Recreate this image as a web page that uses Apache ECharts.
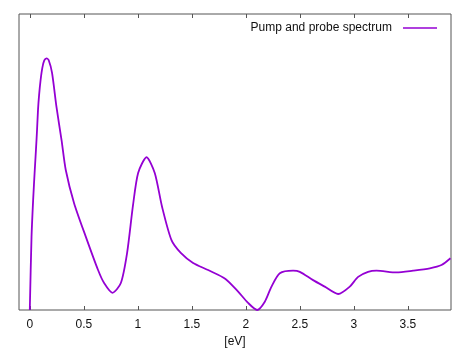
<!DOCTYPE html>
<html><head><meta charset="utf-8">
<script src="https://cdn.jsdelivr.net/npm/echarts@6/dist/echarts.min.js"></script>
<style>html,body{margin:0;padding:0;background:#fff}#c{width:474px;height:355px}</style>
</head><body><div id="c"></div>
<script>
const energyEV = [0,0.016,0.031,0.046,0.057,0.067,0.076,0.086,0.1,0.116,0.134,0.155,0.176,0.206,0.247,0.294,0.333,0.41,0.519,0.632,0.688,0.766,0.843,0.901,0.956,1.003,1.081,1.157,1.225,1.312,1.398,1.512,1.651,1.812,1.929,2.021,2.105,2.176,2.238,2.315,2.438,2.5,2.623,2.731,2.855,2.963,3.04,3.132,3.21,3.395,3.549,3.704,3.812,3.895];
const signal = [0,0.247,0.372,0.473,0.541,0.608,0.676,0.726,0.777,0.818,0.843,0.85,0.843,0.801,0.686,0.574,0.473,0.361,0.247,0.135,0.091,0.058,0.091,0.193,0.355,0.463,0.516,0.463,0.348,0.236,0.193,0.159,0.135,0.105,0.062,0.024,0,0.028,0.079,0.124,0.133,0.129,0.101,0.079,0.054,0.079,0.112,0.129,0.133,0.127,0.133,0.141,0.152,0.175];
const tickValues = [0,0.5,1,1.5,2,2.5,3,3.5];
const seriesName = 'Pump and probe spectrum';

const data = energyEV.map((x,i)=>[x,signal[i]]);
const font = 'Liberation Sans, Arial, sans-serif';
const chart = echarts.init(document.getElementById('c'));
chart.setOption({
  animation:false,
  grid:{left:19,right:23,top:14,bottom:45,show:true,borderColor:'#555',borderWidth:1},
  legend:{show:true,right:32,top:17,align:'right',itemWidth:34,itemHeight:10,itemGap:0,
    textStyle:{fontFamily:font,fontSize:12,color:'#111',padding:[0,6,0,0]},
    data:[{name:seriesName,icon:'path://M0,0 L34,0 L34,1.5 L0,1.5 Z'}]},
  xAxis:[{type:'value',min:-0.1,max:3.9,position:'bottom',name:'[eV]',nameLocation:'middle',nameGap:25,
    nameTextStyle:{fontFamily:font,fontSize:12,color:'#111'},
    axisLine:{show:false},splitLine:{show:false},
    axisTick:{inside:true,length:4,lineStyle:{color:'#555'},customValues:tickValues},
    axisLabel:{fontFamily:font,fontSize:12,color:'#111',margin:9,customValues:tickValues}},
    {type:'value',min:-0.1,max:3.9,position:'top',axisLine:{show:false},splitLine:{show:false},
    axisTick:{inside:true,length:4,lineStyle:{color:'#555'},customValues:tickValues},
    axisLabel:{show:false,customValues:tickValues}}],
  yAxis:{type:'value',min:0,max:1,axisLine:{show:false},axisTick:{show:false},axisLabel:{show:false},splitLine:{show:false}},
  series:[{name:seriesName,type:'line',data:data,smooth:0.25,symbol:'none',clip:true,
    lineStyle:{color:'#9400d3',width:1.8},itemStyle:{color:'#9400d3'}}]
});
</script></body></html>
